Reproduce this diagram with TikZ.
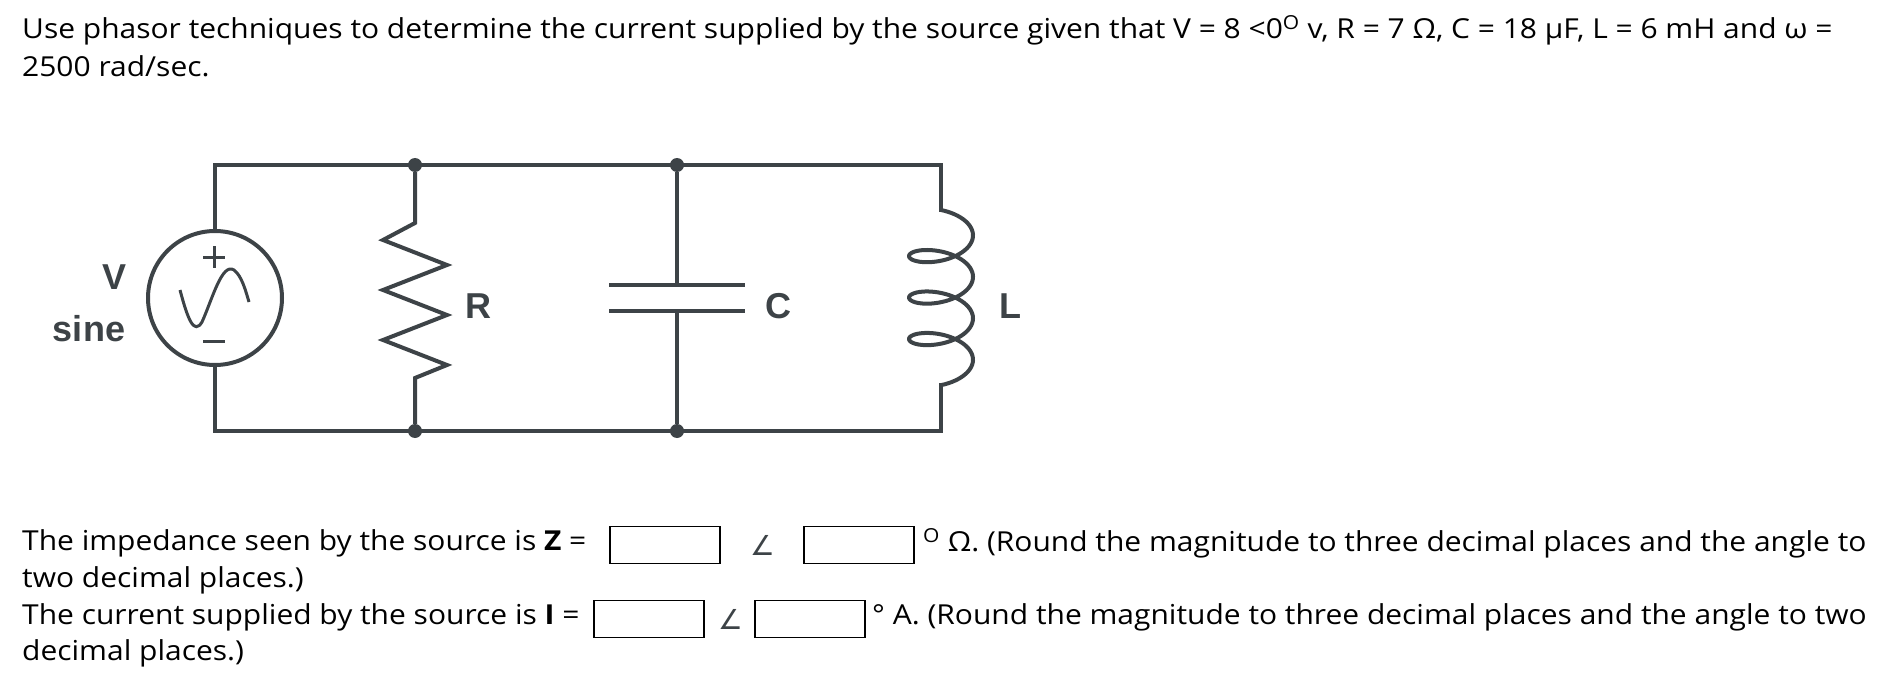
\documentclass[tikz,border=0pt]{standalone}
\usepackage{fontspec}
\setmainfont[FakeStretch=1.09]{Open Sans}
\newfontfamily\dv{DejaVu Sans}
\newfontfamily\lbf{Liberation Sans}
\begin{document}
\begin{tikzpicture}[x=1pt,y=-1pt,
  wire/.style={line width=4pt,draw=cc},
  txt/.style={anchor=west,inner sep=0pt,font=\fontsize{27.5}{32}\selectfont},
  lab/.style={inner sep=0pt,font=\lbf\fontsize{36}{40}\selectfont\bfseries,text=cc},
  ansbox/.style={draw=black,line width=1.5pt,minimum width=110pt,minimum height=37pt,inner sep=0pt},
  dot/.style={circle,fill=cc,inner sep=0pt,minimum size=14pt}]
\definecolor{cc}{HTML}{3D4347}
\useasboundingbox (0,0) rectangle (1904,674);
\node[txt] (t1) at (22,30) {Use phasor techniques to determine the current supplied by the source given that V = 8 <0\textsuperscript{O} v, R = 7 Ω, C = 18 µF, L = 6 mH and ω =};
\node[txt] (t2) at (22,66) {2500 rad/sec.};
% circuit
\coordinate (tl) at (215,165); \coordinate (tr) at (941,165);
\coordinate (bl) at (215,431); \coordinate (br) at (941,431);
\node[dot] (d1) at (415,165) {}; \node[dot] (d2) at (677,165) {};
\node[dot] (d3) at (415,431) {}; \node[dot] (d4) at (677,431) {};
\node[circle,draw=cc,line width=4pt,minimum size=134pt,inner sep=0pt] (src) at (215,298) {};
\draw[wire,line cap=rect] (src.north) -- (tl) -- (tr) -- (941,210);
\draw[wire,line cap=rect] (src.south) -- (bl) -- (br) -- (941,385);
% resistor
\draw[wire,line join=miter] (d1) -- (415,223) -- (383,240) -- (447,265) -- (383,290) -- (447,315) -- (383,340) -- (447,365) -- (415,378) -- (d3);
% capacitor
\draw[wire] (d2) -- (677,285); \draw[wire] (677,311) -- (d4);
\draw[wire] (609,285) -- (745,285); \draw[wire] (609,311) -- (745,311);
% inductor
\draw[wire,domain=0:7*pi,samples=200,variable=\t] plot ({941+32*sin(\t r)},{210+6.6*\t-15*cos(\t r)+15});
% source symbol
\draw[line width=3pt,draw=cc] (203,257) -- (225,257) (214,246) -- (214,268);
\draw[line width=3pt,draw=cc] (203,341) -- (225,341);
\draw[line width=3pt,draw=cc] (180,290) .. controls (188,320) and (194,335) .. (202,322) .. controls (212,300) and (222,262) .. (234,270) .. controls (242,276) and (246,292) .. (249,302);
\node[lab] (lv) at (115,277) {V};
\node[lab] (ls) at (89,329) {sine};
\node[lab] (lr) at (478,306) {R};
\node[lab] (lc) at (778,306) {C};
\node[lab] (ll) at (1010,306) {L};
% questions
\node[txt] (q1) at (22,543) {The impedance seen by the source is \textbf{Z} =};
\node[ansbox] (b1) at (665,545) {};
\node[txt,text=cc] (a1) at (750,545) {\dv ∠};
\node[ansbox] (b2) at (859,545) {};
\node[txt] (q1b) at (923,543) {\textsuperscript{O} Ω. (Round the magnitude to three decimal places and the angle to};
\node[txt] (q2) at (22,580) {two decimal places.)};
\node[txt] (q3) at (22,617) {The current supplied by the source is \textbf{I} =};
\node[ansbox] (b3) at (649,619) {};
\node[txt,text=cc] (a2) at (718,619) {\dv ∠};
\node[ansbox] (b4) at (810,619) {};
\node[txt] (q3b) at (872,617) {° A. (Round the magnitude to three decimal places and the angle to two};
\node[txt] (q4) at (22,653) {decimal places.)};
\end{tikzpicture}
\end{document}
